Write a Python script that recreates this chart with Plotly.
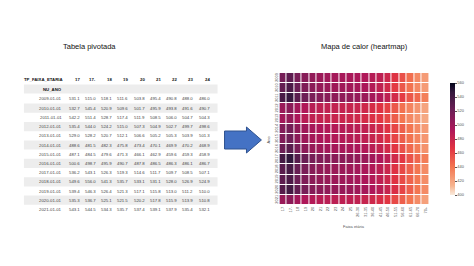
import plotly.graph_objects as go

W, H = 474, 266

AGES = ["17", "17-", "18", "19", "20", "21", "22", "23", "24", "25",
        "26-30", "31-35", "36-40", "41-45", "46-50", "51-55", "56-60",
        "61-65", "66-70", "70+"]
YEARS = [str(y) for y in range(2009, 2022)]
ROW_LABELS = [y + "-01-01" for y in YEARS]
TABLE_COLS = AGES[:9]

TABLE_2009 = [531.1, 515.0, 518.1, 511.6, 503.8, 495.4, 490.8, 488.0, 486.0]
TABLE_2010 = [532.7, 545.4, 520.9, 509.6, 501.7, 495.9, 493.8, 491.6, 490.7]
TABLE_2011 = [542.2, 551.4, 528.7, 517.4, 511.9, 508.5, 506.0, 504.7, 504.3]
TABLE_2012 = [535.4, 544.0, 524.2, 515.0, 507.3, 504.9, 502.7, 499.7, 498.6]
TABLE_2013 = [529.0, 528.2, 520.7, 512.1, 506.6, 505.2, 505.3, 503.9, 501.3]
TABLE_2014 = [488.6, 481.5, 482.3, 475.8, 473.4, 470.1, 469.9, 470.2, 468.9]
TABLE_2015 = [487.1, 484.5, 479.6, 471.3, 466.1, 462.9, 459.6, 459.3, 458.9]
TABLE_2016 = [500.6, 498.7, 495.9, 490.7, 487.8, 486.5, 486.3, 486.1, 486.7]
TABLE_2017 = [536.2, 543.1, 526.3, 519.3, 514.6, 511.7, 509.7, 508.5, 507.1]
TABLE_2018 = [549.6, 556.0, 541.3, 535.7, 533.1, 531.1, 528.0, 526.9, 524.9]
TABLE_2019 = [539.4, 546.3, 526.4, 521.3, 517.1, 515.8, 513.0, 511.2, 510.0]
TABLE_2020 = [535.3, 536.7, 525.1, 521.5, 520.2, 517.8, 515.9, 513.9, 510.8]
TABLE_2021 = [543.1, 544.5, 534.3, 535.7, 537.4, 539.1, 537.9, 535.4, 532.1]
TABLE_ROWS = [TABLE_2009, TABLE_2010, TABLE_2011, TABLE_2012, TABLE_2013,
              TABLE_2014, TABLE_2015, TABLE_2016, TABLE_2017, TABLE_2018,
              TABLE_2019, TABLE_2020, TABLE_2021]

HEAT_2009 = [518, 528, 516, 510, 505, 501, 499, 497, 496, 495, 494, 492, 489, 485, 478, 468, 455, 443, 432, 424]
HEAT_2010 = [526, 536, 522, 514, 508, 504, 502, 500, 499, 498, 497, 494, 490, 484, 476, 464, 452, 441, 432, 424]
HEAT_2011 = [538, 546, 530, 521, 515, 511, 509, 507, 506, 505, 504, 501, 497, 492, 485, 475, 463, 452, 445, 436]
HEAT_2012 = [502, 508, 498, 492, 488, 485, 484, 483, 482, 481, 480, 477, 473, 468, 461, 452, 442, 434, 427, 420]
HEAT_2013 = [498, 504, 494, 488, 484, 482, 481, 480, 479, 478, 477, 474, 470, 465, 458, 450, 440, 432, 426, 418]
HEAT_2014 = [512, 518, 507, 500, 496, 493, 491, 490, 489, 488, 487, 484, 480, 475, 468, 459, 449, 440, 432, 424]
HEAT_2015 = [513, 520, 508, 501, 497, 494, 492, 491, 490, 489, 488, 485, 481, 476, 469, 460, 450, 441, 434, 426]
HEAT_2016 = [522, 530, 516, 508, 503, 500, 498, 497, 496, 495, 494, 491, 487, 482, 475, 466, 455, 445, 437, 428]
HEAT_2017 = [540, 548, 532, 523, 517, 513, 511, 509, 508, 507, 505, 502, 498, 493, 486, 476, 465, 454, 446, 437]
HEAT_2018 = [530, 538, 524, 516, 510, 506, 504, 502, 501, 500, 498, 495, 491, 486, 479, 469, 458, 448, 440, 431]
HEAT_2019 = [528, 536, 522, 514, 508, 505, 503, 501, 500, 499, 497, 494, 490, 485, 478, 468, 457, 447, 439, 430]
HEAT_2020 = [532, 540, 526, 517, 511, 508, 506, 504, 503, 502, 500, 497, 493, 488, 481, 471, 460, 449, 440, 431]
HEAT_2021 = [502, 508, 498, 493, 490, 488, 487, 486, 485, 485, 484, 481, 477, 472, 466, 458, 449, 440, 431, 422]
HEAT = [HEAT_2009, HEAT_2010, HEAT_2011, HEAT_2012, HEAT_2013, HEAT_2014,
        HEAT_2015, HEAT_2016, HEAT_2017, HEAT_2018, HEAT_2019, HEAT_2020, HEAT_2021]

CB_TICKS = [400, 420, 440, 460, 480, 500, 520, 540, 560]

ROCKET_R = [[0.0, "#FAEBDD"], [0.083, "#F6B48F"], [0.25, "#F37651"],
            [0.417, "#E13342"], [0.583, "#AD1759"], [0.75, "#701F57"],
            [0.917, "#35193E"], [1.0, "#03051A"]]


def px(x):
    return x / W


def py(y):
    return 1 - y / H


FONT = "Liberation Sans"

fig = go.Figure()
fig.add_trace(go.Heatmap(
    z=HEAT, x=AGES, y=YEARS, xgap=1, ygap=1,
    colorscale=ROCKET_R, zmin=400, zmax=560,
    colorbar=dict(
        x=px(440), xanchor="left", y=py(73), yanchor="top",
        thickness=5, thicknessmode="pixels", len=132, lenmode="pixels",
        tickvals=CB_TICKS, ticks="outside", ticklen=2, tickwidth=0.5,
        tickcolor="#555", outlinewidth=0,
        tickfont=dict(size=4, color="#555", family=FONT),
    ),
    showscale=True,
))

fig.update_layout(
    width=W, height=H, margin=dict(l=0, r=0, t=0, b=0),
    paper_bgcolor="white", plot_bgcolor="white",
    showlegend=False,
    xaxis=dict(domain=[px(280), px(430)], tickangle=-90, showgrid=False,
               zeroline=False, ticks="", tickfont=dict(size=4, color="#555", family=FONT),
               anchor="y", type="category"),
    yaxis=dict(domain=[py(205), py(73)], autorange="reversed", tickangle=-90,
               showgrid=False, zeroline=False, ticks="", type="category",
               tickfont=dict(size=4, color="#555", family=FONT), anchor="x"),
)

ann = []
shapes = []

# Titles
ann.append(dict(x=px(90), y=py(47), xref="paper", yref="paper", text="Tabela pivotada",
                xanchor="center", yanchor="middle",
                showarrow=False, font=dict(size=7.5, color="#111", family=FONT)))
ann.append(dict(x=px(365), y=py(47), xref="paper", yref="paper", text="Mapa de calor (heartmap)",
                xanchor="center", yanchor="middle",
                showarrow=False, font=dict(size=7.5, color="#111", family=FONT)))

# Heatmap axis titles
ann.append(dict(x=px(269), y=py(139), xref="paper", yref="paper", text="Ano", textangle=-90,
                xanchor="center", yanchor="middle",
                showarrow=False, font=dict(size=4, color="#555", family=FONT)))
ann.append(dict(x=px(355), y=py(226), xref="paper", yref="paper", text="Faixa etária",
                xanchor="center", yanchor="middle",
                showarrow=False, font=dict(size=4, color="#555", family=FONT)))

# Table
TX0, TX1 = 24, 218
LABEL_RIGHT = 64
COL_RIGHT0, COL_STEP = 81.7, 16.3
HEAD_Y, IDX_Y = 79, 89
ROW_Y0, ROW_STEP = 99, 9.2
TFONT = dict(size=4.3, color="#444", family=FONT)
HFONT = dict(size=4.3, color="#111", family=FONT)


def stripe(yc):
    shapes.append(dict(type="rect", xref="paper", yref="paper",
                       x0=px(TX0), x1=px(TX1), y0=py(yc + ROW_STEP / 2), y1=py(yc - ROW_STEP / 2),
                       fillcolor="#EDEDED", line=dict(width=0), layer="below"))


stripe(IDX_Y)
ann.append(dict(x=px(LABEL_RIGHT + 1), y=py(HEAD_Y), xref="paper", yref="paper", text="<b>TP_FAIXA_ETARIA</b>",
                xanchor="right", yanchor="middle", showarrow=False, font=HFONT))
ann.append(dict(x=px(LABEL_RIGHT), y=py(IDX_Y), xref="paper", yref="paper", text="<b>NU_ANO</b>",
                xanchor="right", yanchor="middle", showarrow=False, font=HFONT))
for j, c in enumerate(TABLE_COLS):
    ann.append(dict(x=px(COL_RIGHT0 + COL_STEP * j), y=py(HEAD_Y), xref="paper", yref="paper",
                    text="<b>" + c + "</b>", xanchor="right", yanchor="middle", showarrow=False, font=HFONT))

for i, (lab, vals) in enumerate(zip(ROW_LABELS, TABLE_ROWS)):
    yc = ROW_Y0 + ROW_STEP * i
    if i % 2 == 1:
        stripe(yc)
    ann.append(dict(x=px(LABEL_RIGHT), y=py(yc), xref="paper", yref="paper", text=lab,
                    xanchor="right", yanchor="middle", showarrow=False, font=TFONT))
    for j, v in enumerate(vals):
        ann.append(dict(x=px(COL_RIGHT0 + COL_STEP * j), y=py(yc), xref="paper", yref="paper",
                        text=f"{v:.1f}", xanchor="right", yanchor="middle", showarrow=False, font=TFONT))

# Arrow
pts = [(225, 131), (247, 131), (247, 127), (262, 140), (247, 153), (247, 149), (225, 149)]
path = "M " + " L ".join(f"{px(x):.4f},{py(y):.4f}" for x, y in pts) + " Z"
shapes.append(dict(type="path", xref="paper", yref="paper", path=path,
                   fillcolor="#4472C4", line=dict(color="#2F528F", width=1)))

fig.update_layout(annotations=ann, shapes=shapes)
fig.write_html("out.html")
